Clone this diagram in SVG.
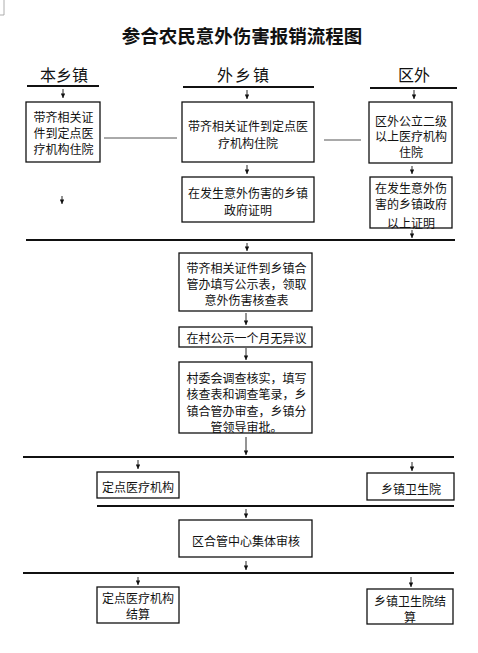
<svg xmlns="http://www.w3.org/2000/svg" width="478" height="653" viewBox="0 0 478 653">
<style>
.t{font-family:"Noto Sans CJK SC","Liberation Sans",sans-serif;fill:#111;text-anchor:middle}
.title{font-size:18.5px;font-weight:bold}
.hd{font-size:16px}
.bx{font-size:12px;dominant-baseline:central}
.box{fill:#fff;stroke:#111;stroke-width:1.3}
.ar{stroke:#111;stroke-width:0.9;fill:none;marker-end:url(#ah)}
.thick{stroke:#111;stroke-width:2.2}
.thin{stroke:#555;stroke-width:1}
</style>
<defs>
<marker id="ah" viewBox="0 0 6 6" refX="6" refY="3" markerWidth="5" markerHeight="4.5" orient="auto" markerUnits="userSpaceOnUse">
<path d="M0,0 L6,3 L0,6 z" fill="#111"/>
</marker>
</defs>
<rect width="478" height="653" fill="#fff"/>
<path d="M0,15 H4 V0" fill="none" stroke="#999" stroke-width="0.8"/>
<text class="t title" x="242" y="43">参合农民意外伤害报销流程图</text>
<g id="header-local">
<text class="t hd" x="64" y="81">本乡镇</text>
<line class="thick" x1="27" y1="86" x2="99" y2="86"/>
</g>
<g id="header-other">
<text class="t hd" x="244" y="81" letter-spacing="2">外乡镇</text>
<line class="thick" x1="183" y1="87" x2="314" y2="87"/>
</g>
<g id="header-outside">
<text class="t hd" x="414" y="81">区外</text>
<line class="thick" x1="370" y1="88" x2="457" y2="88"/>
</g>
<g id="connectors">
<line class="thin" x1="104" y1="138" x2="177" y2="138"/>
<line class="thin" x1="324" y1="140" x2="361" y2="140"/>
<line class="thick" x1="26" y1="240" x2="455" y2="240"/>
<line class="thick" x1="23" y1="457" x2="454" y2="457"/>
<line class="thick" x1="97" y1="506" x2="454" y2="506"/>
<line class="thick" x1="23" y1="573" x2="454" y2="573"/>
<line class="ar" x1="63" y1="89" x2="63" y2="98"/>
<line class="ar" x1="247" y1="90" x2="247" y2="99"/>
<line class="ar" x1="414" y1="90" x2="414" y2="99"/>
<line class="ar" x1="247" y1="165" x2="247" y2="174"/>
<line class="ar" x1="62" y1="196" x2="62" y2="204"/>
<line class="ar" x1="412" y1="166" x2="412" y2="174"/>
<line class="ar" x1="412" y1="230" x2="412" y2="238"/>
<line class="ar" x1="247" y1="243" x2="247" y2="251"/>
<line class="ar" x1="246" y1="313" x2="246" y2="325"/>
<line class="ar" x1="246" y1="348" x2="246" y2="360"/>
<line class="ar" x1="246" y1="437" x2="246" y2="455"/>
<line class="ar" x1="138" y1="460" x2="138" y2="469"/>
<line class="ar" x1="412" y1="462" x2="412" y2="471"/>
<line class="ar" x1="246" y1="509" x2="246" y2="518"/>
<line class="ar" x1="246" y1="561" x2="246" y2="570"/>
<line class="ar" x1="138" y1="577" x2="138" y2="585"/>
<line class="ar" x1="411" y1="577" x2="411" y2="587"/>
</g>
<g id="n1">
<rect class="box" x="26" y="102" width="74" height="60"/>
<text class="t bx" x="63.5" y="116.5">带齐相关证</text>
<text class="t bx" x="63.5" y="132.5">件到定点医</text>
<text class="t bx" x="63.5" y="148.5">疗机构住院</text>
</g>
<g id="n2">
<rect class="box" x="182" y="102" width="132" height="60"/>
<text class="t bx" x="248" y="125.5">带齐相关证件到定点医</text>
<text class="t bx" x="248" y="142.5">疗机构住院</text>
</g>
<g id="n3">
<rect class="box" x="369" y="102" width="83" height="61"/>
<text class="t bx" x="411" y="120">区外公立二级</text>
<text class="t bx" x="411" y="135.5">以上医疗机构</text>
<text class="t bx" x="411" y="151">住院</text>
</g>
<g id="n4">
<rect class="box" x="182" y="177" width="132" height="45"/>
<text class="t bx" x="248" y="192.5">在发生意外伤害的乡镇</text>
<text class="t bx" x="248" y="209">政府证明</text>
</g>
<g id="n5">
<rect class="box" x="370" y="177" width="82" height="51"/>
<text class="t bx" x="411" y="187">在发生意外伤</text>
<text class="t bx" x="411" y="203.5">害的乡镇政府</text>
<text class="t bx" x="411" y="222">以上证明</text>
</g>
<g id="n6">
<rect class="box" x="179" y="253" width="133" height="58"/>
<text class="t bx" x="246.5" y="267">带齐相关证件到乡镇合</text>
<text class="t bx" x="246.5" y="283">管办填写公示表，领取</text>
<text class="t bx" x="246.5" y="299">意外伤害核查表</text>
</g>
<g id="n7">
<rect class="box" x="179" y="327" width="133" height="20"/>
<text class="t bx" x="246.5" y="337">在村公示一个月无异议</text>
</g>
<g id="n8">
<rect class="box" x="179" y="362" width="133" height="71"/>
<text class="t bx" x="246.5" y="377">村委会调查核实，填写</text>
<text class="t bx" x="246.5" y="393.5">核查表和调查笔录，乡</text>
<text class="t bx" x="246.5" y="410">镇合管办审查，乡镇分</text>
<text class="t bx" x="246.5" y="426.5">管领导审批。</text>
</g>
<g id="n9">
<rect class="box" x="97" y="472" width="82" height="26"/>
<text class="t bx" x="138" y="486">定点医疗机构</text>
</g>
<g id="n10">
<rect class="box" x="367" y="473" width="87" height="27"/>
<text class="t bx" x="411" y="488">乡镇卫生院</text>
</g>
<g id="n11">
<rect class="box" x="179" y="520" width="133" height="37"/>
<text class="t bx" x="246" y="540">区合管中心集体审核</text>
</g>
<g id="n12">
<rect class="box" x="97" y="587" width="82" height="36"/>
<text class="t bx" x="138" y="597.5">定点医疗机构</text>
<text class="t bx" x="138" y="613.5">结算</text>
</g>
<g id="n13">
<rect class="box" x="367" y="589" width="86" height="35"/>
<text class="t bx" x="410" y="600.5">乡镇卫生院结</text>
<text class="t bx" x="410" y="616.5">算</text>
</g>
</svg>
